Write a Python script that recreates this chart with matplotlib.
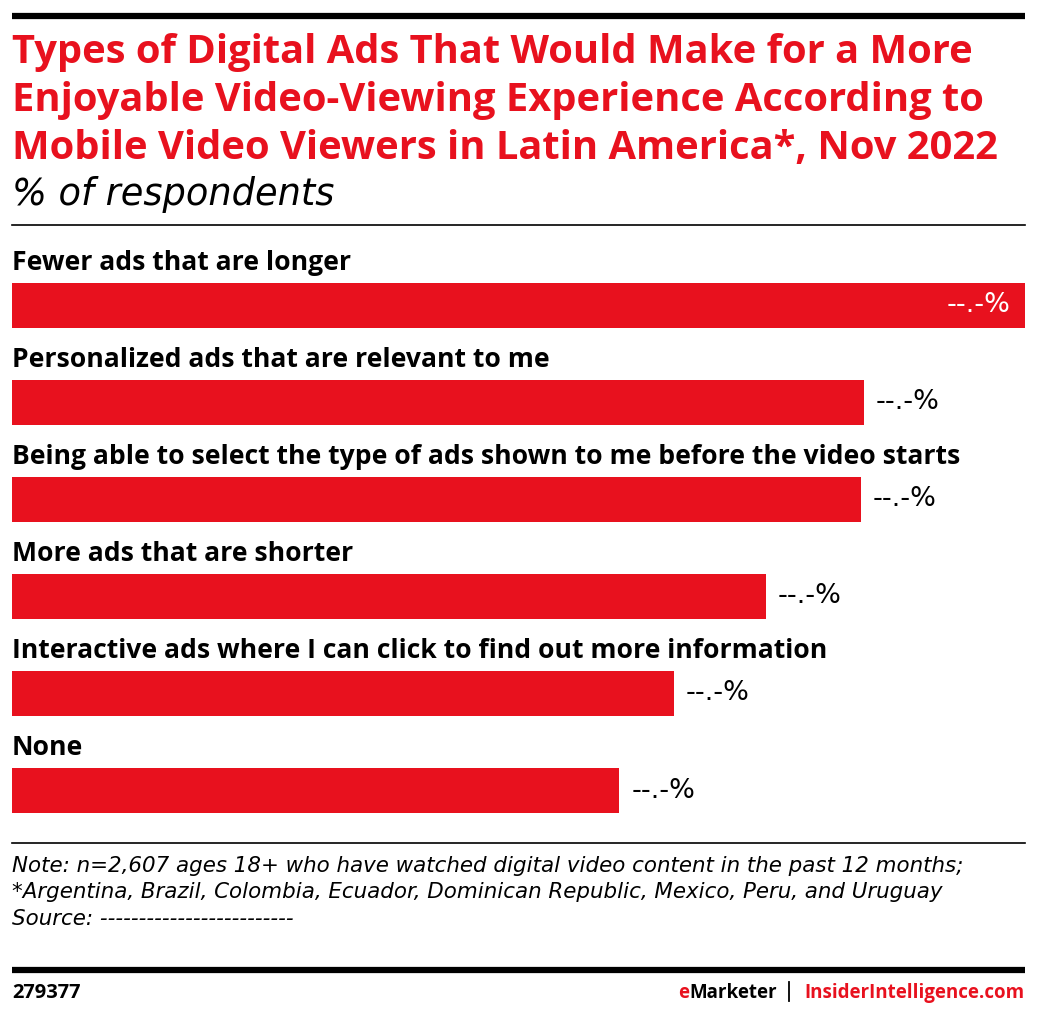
import matplotlib.pyplot as plt

# data
categories = [
    "Fewer ads that are longer",
    "Personalized ads that are relevant to me",
    "Being able to select the type of ads shown to me before the video starts",
    "More ads that are shorter",
    "Interactive ads where I can click to find out more information",
    "None",
]
values = [35.2, 29.6, 29.5, 26.2, 23.0, 21.1]
value_labels = ["--.-%"] * 6

title_lines = [
    "Types of Digital Ads That Would Make for a More",
    "Enjoyable Video-Viewing Experience According to",
    "Mobile Video Viewers in Latin America*, Nov 2022",
]
subtitle = "% of respondents"
notes = [
    "Note: n=2,607 ages 18+ who have watched digital video content in the past 12 months;",
    "*Argentina, Brazil, Colombia, Ecuador, Dominican Republic, Mexico, Peru, and Uruguay",
    "Source: -------------------------",
]

RED = "#E8111E"
W, H = 1038, 1016
FONT = "Open Sans"
FONT2 = "DejaVu Sans"

fig = plt.figure(figsize=(W / 100, H / 100), dpi=100)

# background axes in pixel coords for text and rules
bg = fig.add_axes([0, 0, 1, 1])
bg.set_xlim(0, W)
bg.set_ylim(H, 0)
bg.axis("off")

L, R = 12, 1025
bg.plot([L, R], [16, 16], color="black", lw=4.5, solid_capstyle="butt")
for i, line in enumerate(title_lines):
    bg.text(L, 63 + i * 48, line, color=RED, fontsize=28.7, fontweight="bold",
            family=FONT, va="baseline", ha="left")
bg.text(L, 205, subtitle, fontsize=26.5, style="italic", family=FONT2,
        va="baseline", ha="left")
bg.plot([L, R], [225, 225], color="black", lw=1.2)

bg.plot([L, R], [843, 843], color="black", lw=1.2)
for i, line in enumerate(notes):
    bg.text(L, 872 + i * 26.5, line, fontsize=15.4, style="italic", family=FONT2,
            va="baseline", ha="left")
bg.plot([L, R], [970, 970], color="black", lw=4.5, solid_capstyle="butt")
bg.text(L, 998, "279377", fontsize=14.5, fontweight="bold", family=FONT,
        va="baseline", ha="left")
t = bg.text(R, 998, "InsiderIntelligence.com", fontsize=13.5, fontweight="bold",
            family=FONT, color=RED, va="baseline", ha="right")
fig.canvas.draw()
bb = t.get_window_extent()
x_sep = bb.x0 - 16
bg.plot([x_sep, x_sep], [982, 1001], color="black", lw=1.3)
t2 = bg.text(x_sep - 12, 998, "Marketer", fontsize=13.5, fontweight="bold",
             family=FONT, va="baseline", ha="right")
fig.canvas.draw()
bb2 = t2.get_window_extent()
bg.text(bb2.x0, 998, "e", fontsize=13.5, fontweight="bold", family=FONT,
        color=RED, va="baseline", ha="right")

# bar axes
top_px = 305.5 - 0.68 * 97
bot_px = 305.5 + 5.4 * 97
ax = fig.add_axes([L / W, 1 - bot_px / H, (R - L) / W, (bot_px - top_px) / H])
ypos = list(range(len(categories)))
ax.barh(ypos, values, height=0.464, color=RED)
ax.set_xlim(0, max(values))
ax.set_ylim(5.4, -0.68)
ax.axis("off")

for i, (cat, v, lab) in enumerate(zip(categories, values, value_labels)):
    ax.text(0, i - 0.44, cat, fontsize=19.1, fontweight="bold", family=FONT,
            va="center", ha="left")
    if v == max(values):
        ax.annotate(lab, (v, i), xytext=(-15, 0), textcoords="offset pixels",
                    color="white", fontsize=19.5, family=FONT2, va="center", ha="right")
    else:
        ax.annotate(lab, (v, i), xytext=(12, 0), textcoords="offset pixels",
                    color="black", fontsize=19.5, family=FONT2, va="center", ha="left")

fig.savefig("out.png", dpi=100)
